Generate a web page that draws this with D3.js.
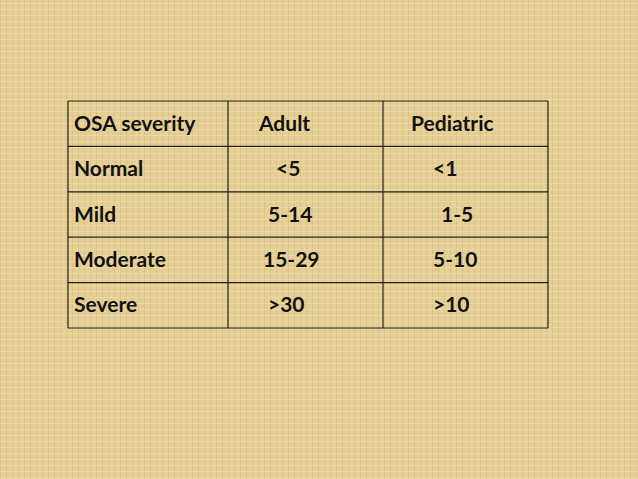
<!DOCTYPE html>
<html><head><meta charset="utf-8">
<script src="https://cdn.jsdelivr.net/npm/d3@7"></script>
<style>body{margin:0;background:#e6d29a;}svg{display:block}</style>
</head><body>
<svg id="chart" width="638" height="479"></svg>
<script>
const columns = ["OSA severity", "Adult", "Pediatric"];
const severity = ["Normal", "Mild", "Moderate", "Severe"];
const adult = ["<5", "5-14", "15-29", ">30"];
const pediatric = ["<1", "1-5", "5-10", ">10"];

const svg = d3.select("#chart");

// woven background texture
const defs = svg.append("defs");
const pat = defs.append("pattern").attr("id", "weave").attr("width", 6).attr("height", 6)
    .attr("patternUnits", "userSpaceOnUse");
pat.append("rect").attr("width", 6).attr("height", 6).attr("fill", "#e6cf95");
pat.append("rect").attr("x", 0).attr("width", 1).attr("height", 6).attr("fill", "#d4b97b").attr("opacity", 0.6);
pat.append("rect").attr("y", 3).attr("width", 6).attr("height", 1).attr("fill", "#efdfae").attr("opacity", 0.6);
svg.append("rect").attr("width", 638).attr("height", 479).attr("fill", "url(#weave)");

const colEdges = [68, 228, 383, 548];
const rowScale = d3.scaleBand().domain(d3.range(5)).range([101, 328]);

const rows = [columns].concat(severity.map((s, i) => [s, adult[i], pediatric[i]]));
const valueOffset = [[6, 31, 28], [6, 48, 50], [6, 40, 58], [6, 35, 50], [6, 40, 50]];

const g = svg.append("g");
rows.forEach((r, i) => {
    r.forEach((t, j) => {
        g.append("text")
            .attr("x", colEdges[j] + valueOffset[i][j])
            .attr("y", rowScale(i) + rowScale.bandwidth() / 2 + 7)
            .attr("font-family", "Lato, 'Open Sans', sans-serif")
            .attr("font-weight", "bold")
            .attr("font-size", 21)
            .attr("fill", "#111")
            .text(t);
    });
});

// grid lines
d3.range(6).forEach(i => {
    const y = i < 5 ? rowScale(i) : 328;
    g.append("line").attr("x1", 68).attr("x2", 548).attr("y1", y).attr("y2", y)
        .attr("stroke", "#222").attr("stroke-width", 1.2);
});
colEdges.forEach(x => {
    g.append("line").attr("x1", x).attr("x2", x).attr("y1", 101).attr("y2", 328)
        .attr("stroke", "#222").attr("stroke-width", 1.2);
});
</script>
</body></html>
